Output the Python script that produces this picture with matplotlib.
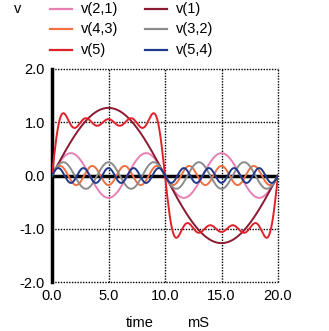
import numpy as np
import matplotlib
matplotlib.use("Agg")
import matplotlib.pyplot as plt
from matplotlib.lines import Line2D

plt.rcParams['font.family'] = ['Liberation Sans', 'DejaVu Sans']

# Fourier components of the 50 Hz square wave, one trace per node difference
labels = ['v(2,1)', 'v(1)', 'v(4,3)', 'v(3,2)', 'v(5)', 'v(5,4)']
colors = ['#e87fb5', '#8a1a30', '#f07040', '#8c8c8c', '#e0202a', '#1f3a8a']
harmonic = [3, 1, 7, 5, 0, 9]          # 0 -> sum of all harmonics
amplitude = [0.42, 1.27, 0.18, 0.25, 0.0, 0.14]

period_ms = 20.0
x_ticks = [0.0, 5.0, 10.0, 15.0, 20.0]
y_ticks = [-2.0, -1.0, 0.0, 1.0, 2.0]

t = np.linspace(0, 20, 201)
w = 2 * np.pi / period_ms
traces = {}
for lab, n, a in zip(labels, harmonic, amplitude):
    if n:
        traces[lab] = a * np.sin(n * w * t)
traces['v(5)'] = sum(traces[l] for l in labels if l != 'v(5)')

fig = plt.figure(figsize=(3.29, 3.31), dpi=100)
W, H = 329, 331
FS = 10.5
ax = fig.add_axes([52 / W, (H - 282) / H, 226 / W, 213 / H])

dot = (0, (1, 1))
for x in x_ticks[1:]:
    ax.axvline(x, color='black', lw=1, ls=dot, clip_on=False, zorder=1)
for y in [-2.0, -1.0, 1.0, 2.0]:
    ax.axhline(y, color='black', lw=1, ls=dot, clip_on=False, zorder=1)
ax.axhline(0, color='black', lw=2.5, zorder=2)

for lab, c in zip(labels, colors):
    ax.plot(t, traces[lab], color=c, lw=1.4, zorder=3)

ax.set_xlim(0, 20)
ax.set_ylim(-2, 2)
for s in ['top', 'right', 'bottom']:
    ax.spines[s].set_visible(False)
ax.spines['left'].set_linewidth(2.5)
ax.tick_params(length=0, labelsize=FS, pad=5)
ax.set_xticks(x_ticks)
ax.set_xticklabels([f'{v:.1f}' for v in x_ticks])
ax.set_yticks(y_ticks)
ax.set_yticklabels([f'{v:.1f}' for v in y_ticks])

fig.text(140 / W, 1 - 323 / H, 'time', ha='center', va='center', fontsize=FS)
fig.text(198 / W, 1 - 323 / H, 'mS', ha='center', va='center', fontsize=FS)
fig.text(18 / W, 1 - 9 / H, 'v', ha='center', va='center', fontsize=FS)

# two-column legend at the top
rows_y = [9, 29, 50]
cols_x = [50, 145]
for i, (lab, c) in enumerate(zip(labels, colors)):
    r, col = i // 2, i % 2
    x0 = cols_x[col]
    y0 = 1 - rows_y[r] / H
    fig.add_artist(Line2D([x0 / W, (x0 + 22) / W], [y0, y0], color=c, lw=1.6))
    fig.text((x0 + 31) / W, y0, lab, ha='left', va='center', fontsize=FS)

fig.savefig('out.png', dpi=100)
